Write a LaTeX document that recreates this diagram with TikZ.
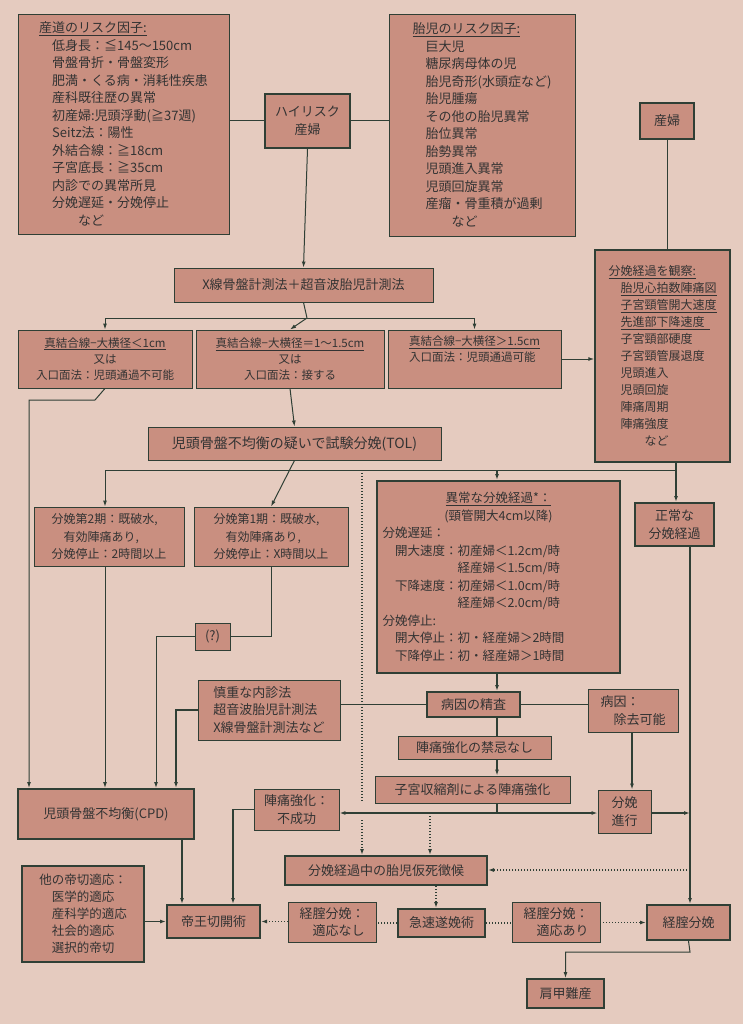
\documentclass[tikz,border=0pt]{standalone}
\usepackage{fontspec}
\setmainfont{Noto Sans CJK JP}
\usetikzlibrary{arrows.meta}
\definecolor{bg}{HTML}{E5CBBF}
\definecolor{bf}{HTML}{C98F80}
\definecolor{ln}{HTML}{2F3F35}
\newcommand\bx[7]{\node[#6,minimum width={#4-#2},minimum height={#5-#3}] (#1) at ({(#2+#4)/2},{(#3+#5)/2}) {#7};}
\newcommand\ind{\hspace*{1em}}
\begin{document}
\begin{tikzpicture}[x=1pt,y=-1pt,
 b/.style={draw=ln,fill=bf,line width=0.9pt,inner sep=2pt,text=black!80,font=\fontsize{13}{17.5}\selectfont,align=left},
 B/.style={b,line width=2pt},
 c/.style={align=center},
 l/.style={draw=ln,line width=1pt},
 a/.style={l,-{Latex[length=6pt,width=4pt]}},
 d/.style={l,dotted,line width=1.3pt},
 da/.style={d,-{Latex[length=6pt,width=4pt]}}]
\fill[bg] (0,0) rectangle (743,1024);
\useasboundingbox (0,0) rectangle (743,1024);
\bx{sd}{18}{14}{229}{234}{b}{\underline{産道のリスク因子:}\\\ind 低身長：≦145～150cm\\\ind 骨盤骨折・骨盤変形\\\ind 肥満・くる病・消耗性疾患\\\ind 産科既往歴の異常\\\ind 初産婦:児頭浮動(≧37週)\\\ind Seitz法：陽性\\\ind 外結合線：≧18cm\\\ind 子宮底長：≧35cm\\\ind 内診での異常所見\\\ind 分娩遅延・分娩停止\\\ind\ind\ind など}
\bx{hr}{265}{94}{350}{148}{B,c}{ハイリスク\\産婦}
\bx{tj}{389}{14}{575}{236}{b}{\underline{胎児のリスク因子:}\\\ind 巨大児\\\ind 糖尿病母体の児\\\ind 胎児奇形(水頭症など)\\\ind 胎児腫瘍\\\ind その他の胎児異常\\\ind 胎位異常\\\ind 胎勢異常\\\ind 児頭進入異常\\\ind 児頭回旋異常\\\ind 産瘤・骨重積が過剰\\\ind\ind\ind など}
\bx{sp}{640}{103}{694}{139}{B,c}{産婦}
\bx{xs}{174}{268}{433}{302}{b,c}{X線骨盤計測法＋超音波胎児計測法}
\bx{ka}{18}{330}{192}{388}{b,c,font=\fontsize{11.5}{16}\selectfont}{\underline{真結合線−大横径＜1cm}\\又は\\入口面法：児頭通過不可能}
\bx{kb}{196}{330}{384}{388}{b,c,font=\fontsize{11.5}{16}\selectfont}{\underline{真結合線−大横径＝1～1.5cm}\\又は\\入口面法：接する}
\bx{kc}{388}{330}{561}{388}{b,font=\fontsize{11.5}{16}\selectfont}{\underline{真結合線−大横径＞1.5cm}\\入口面法：児頭通過可能\\\strut}
\bx{ob}{595}{250}{730}{462}{B,line width=1.5pt,font=\fontsize{12}{17}\selectfont}{\underline{分娩経過を観察:}\\\ind\underline{胎児心拍数陣痛図}\\\ind\underline{子宮頸管開大速度}\\\ind\underline{先進部下降速度\ \ }\\\ind 子宮頸部硬度\\\ind 子宮頸管展退度\\\ind 児頭進入\\\ind 児頭回旋\\\ind 陣痛周期\\\ind 陣痛強度\\\ind\ind\ind など}
\bx{tol}{148}{427}{441}{460}{b,c,font=\fontsize{14}{17}\selectfont}{児頭骨盤不均衡の疑いで試験分娩(TOL)}
\bx{k2}{34}{507}{184}{566}{b,font=\fontsize{12}{17.5}\selectfont}{分娩第2期：既破水,\\\ind 有効陣痛あり,\\分娩停止：2時間以上}
\bx{k1}{194}{507}{348}{566}{b,font=\fontsize{12}{17.5}\selectfont}{分娩第1期：既破水,\\\ind 有効陣痛あり,\\分娩停止：\textit{X}時間以上}
\bx{ij}{377}{481}{620}{673}{B,text width=232pt,font=\fontsize{12.5}{17.5}\selectfont}{{\centering\underline{異常な分娩経過*：}\\(頸管開大4cm以降)\par}
分娩遅延：\\\ind 開大速度：初産婦＜1.2cm/時\\\ind\phantom{開大速度：}経産婦＜1.5cm/時\\\ind 下降速度：初産婦＜1.0cm/時\\\ind\phantom{開大速度：}経産婦＜2.0cm/時\\分娩停止:\\\ind 開大停止：初・経産婦＞2時間\\\ind 下降停止：初・経産婦＞1時間}
\bx{sj}{635}{503}{714}{546}{B,c}{正常な\\分娩経過}
\bx{q}{195}{623}{230}{650}{b,c}{(?)}
\bx{sc}{198}{680}{340}{740}{b}{慎重な内診法\\超音波胎児計測法\\X線骨盤計測法など}
\bx{by}{427}{692}{520}{717}{B,c}{病因の精査}
\bx{bj}{588}{689}{678}{732}{b}{病因：\\\ind 除去可能}
\bx{kn}{398}{736}{551}{759}{b,c}{陣痛強化の禁忌なし}
\bx{ks}{375}{776}{570}{803}{b,c}{子宮収縮剤による陣痛強化}
\bx{bs}{598}{790}{651}{833}{b,c}{分娩\\進行}
\bx{cpd}{18}{789}{194}{839}{B}{児頭骨盤不均衡(CPD)}
\bx{jf}{254}{789}{339}{830}{b}{陣痛強化：\\\ind 不成功}
\bx{tk}{285}{856}{487}{885}{B,c}{分娩経過中の胎児仮死徴候}
\bx{ot}{22}{866}{144}{962}{B,font=\fontsize{12.5}{17}\selectfont}{他の帝切適応：\\\ind 医学的適応\\\ind 産科学的適応\\\ind 社会的適応\\\ind 選択的帝切}
\bx{tei}{167}{905}{260}{938}{B,c}{帝王切開術}
\bx{tn}{288}{902}{376}{942}{b}{経腟分娩：\\\ind 適応なし}
\bx{kyu}{398}{909}{485}{937}{B,c}{急速遂娩術}
\bx{ta}{512}{902}{600}{942}{b}{経腟分娩：\\\ind 適応あり}
\bx{kb2}{647}{905}{730}{940}{B,c}{経腟分娩}
\bx{kk}{527}{979}{604}{1008}{B,c}{肩甲難産}
% coordinates
\coordinate (br) at (307,318);
\coordinate (h1) at (105,470);
\coordinate (h2) at (676,470);
\coordinate (jn) at (497,813);
\coordinate (vr) at (690,813);
\coordinate (dt) at (362,470);
\coordinate (de) at (362,802);
\coordinate (dr) at (690,870);
% connectors
\draw[l] (sd.east|-hr.west) -- (hr.west);
\draw[l] (hr.east) -- (tj.west|-hr.east);
\draw[a] (hr.south) -- (xs.north);
\draw[l] (xs.south) -- (br);
\draw[a] (br) -| (ka.north);
\draw[a] (br) -| (kc.north);
\draw[a] (br) -- (kb.north);
\draw[a] (kc.east) -- (ob.west|-kc.east);
\draw[l] (sp.south) -- (sp.south|-ob.north);
\draw[a] (ka.south) -- (95,400) -| (cpd.north-|29,0);
\draw[a] (kb.south) -- (tol.north);
\draw[a] (tol.south) -- (k1.north);
\draw[l] (h1) -- (h2);
\draw[l,line width=1.5pt] (h2) -- (ob.south-|h2);
\draw[a] (h1) -- (k2.north-|h1);
\draw[a,line width=1.3pt] (497,470) -- (ij.north-|497,0);
\draw[a,line width=1.5pt] (h2) -- (sj.north-|h2);
\draw[d] (dt) -- (de);
\draw[a] (k2.south-|105,0) -- (cpd.north-|105,0);
\draw[l] (k1.south) |- (q.east);
\draw[a] (q.west) -| (cpd.north-|156,0);
\draw[a,line width=1.3pt] (sc.west) -| (cpd.north-|176,0);
\draw[l,line width=1.3pt] (sc.east|-by.west) -- (by.west);
\draw[l,line width=1.3pt] (by.east) -- (bj.west|-by.east);
\draw[a,line width=1.3pt] (ij.south-|497,0) -- (by.north-|497,0);
\draw[l,line width=1.3pt] (by.south-|497,0) -- (kn.north-|497,0);
\draw[a,line width=1.3pt] (kn.south-|497,0) -- (ks.north-|497,0);
\draw[l,line width=1.3pt] (ks.south-|497,0) -- (jn);
\draw[a,line width=1.3pt] (jn) -- (jf.east|-jn);
\draw[a,line width=1.3pt] (jn) -- (bs.west|-jn);
\draw[a,line width=1.3pt] (bs.east|-jn) -- (vr);
\draw[a,line width=1.3pt] (bj.south-|632,0) -- (bs.north-|632,0);
\draw[a,line width=1.3pt] (sj.south-|690,0) -- (kb2.north-|690,0);
\draw[da] (dr) -- (tk.east|-dr);
\draw[da] (362,820) -- (tk.north-|362,0);
\draw[da] (430,813) -- (tk.north-|430,0);
\draw[da] (tk.south-|436,0) -- (kyu.north-|436,0);
\draw[d] (kyu.west) -- (tn.east|-kyu.west);
\draw[da] (tn.west|-tei.east) -- (tei.east);
\draw[d] (kyu.east) -- (ta.west|-kyu.east);
\draw[da] (ta.east|-kb2.west) -- (kb2.west);
\draw[a,line width=1.3pt] (jf.west) -| (tei.north-|233,0);
\draw[a,line width=1.3pt] (cpd.south-|182,0) -- (tei.north-|182,0);
\draw[a,line width=1.3pt] (ot.east|-tei.west) -- (tei.west);
\draw[a] (kb2.south) -- (690,952) -| (kk.north);
\end{tikzpicture}
\end{document}
